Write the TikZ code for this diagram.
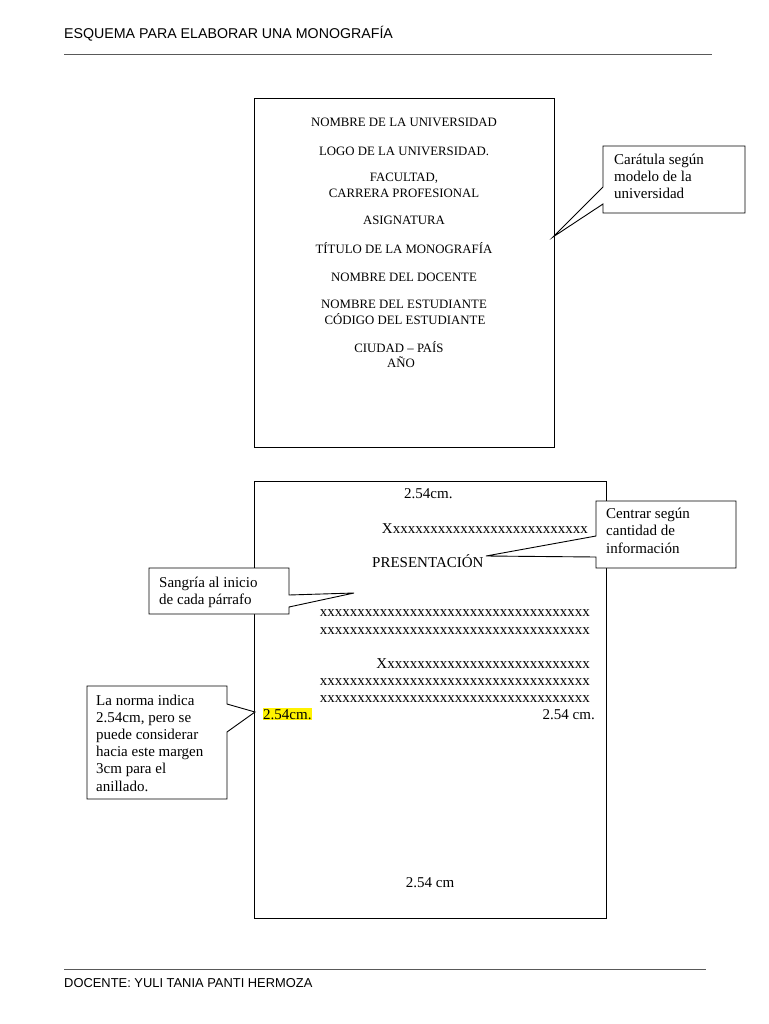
\documentclass[tikz,border=0pt]{standalone}
\usepackage{fontspec}
\setmainfont{Liberation Serif}
\newfontfamily\hdrfont{Liberation Sans}
\begin{document}
\begin{tikzpicture}[x=1pt,y=-1pt,
  pagebox/.style={draw=black,line width=0.9pt},
  callout/.style={draw=black,line width=0.9pt,fill=white,line join=miter},
  cover/.style={inner sep=0pt,anchor=base,font=\fontsize{12.8}{16}\selectfont},
  body/.style={inner sep=0pt,font=\fontsize{15}{17}\selectfont},
  ctext/.style={inner sep=0pt,anchor=base west,font=\fontsize{15}{17}\selectfont},
  rule/.style={draw=black!65,line width=0.8pt}]
\useasboundingbox (0,0) rectangle (768,1024);
% header / footer
\node[inner sep=0pt,anchor=base west,font=\hdrfont\fontsize{14.2}{16}\selectfont] (hdr) at (64,39) {ESQUEMA PARA ELABORAR UNA MONOGRAFÍA};
\coordinate (hr1) at (64,54); \coordinate (hr2) at (712,54);
\draw[rule] (hr1) -- (hr2);
\coordinate (fr1) at (64,969); \coordinate (fr2) at (706,969);
\draw[rule] (fr1) -- (fr2);
\node[inner sep=0pt,anchor=base west,font=\hdrfont\fontsize{12.9}{15}\selectfont] (ftr) at (64,987) {DOCENTE: YULI TANIA PANTI HERMOZA};
% page 1 (cover)
\draw[pagebox] (254,98) rectangle (554,447);
\node[cover] (c1) at (404,127) {NOMBRE DE LA UNIVERSIDAD};
\node[cover] (c2) at (404,156) {LOGO DE LA UNIVERSIDAD.};
\node[cover] (c3) at (404,182) {FACULTAD,};
\node[cover] (c4) at (404,198) {CARRERA PROFESIONAL};
\node[cover] (c5) at (404,225) {ASIGNATURA};
\node[cover] (c6) at (404,253) {TÍTULO DE LA MONOGRAFÍA};
\node[cover] (c7) at (404,281) {NOMBRE DEL DOCENTE};
\node[cover] (c8) at (404,308) {NOMBRE DEL ESTUDIANTE};
\node[cover] (c9) at (405,324) {CÓDIGO DEL ESTUDIANTE};
\node[cover] (c10) at (399,352) {CIUDAD – PAÍS};
\node[cover] (c11) at (401,367) {AÑO};
% callout 1
\coordinate (t1) at (553,237);
\draw[callout] (603,146) -- (745,146) -- (745,213) -- (603,213) -- (603,204) -- (t1) -- (603,187) -- cycle;
\node[ctext] (k1a) at (614,165) {Carátula según};
\node[ctext] (k1b) at (614,182) {modelo de la};
\node[ctext] (k1c) at (614,199) {universidad};
% page 2
\draw[pagebox] (254,481) rectangle (606,918);
\node[body,anchor=base west] (p1) at (404,498) {2.54cm.};
\node[body,anchor=base east] (p2) at (588,533) {Xxxxxxxxxxxxxxxxxxxxxxxxxxx};
\node[body,anchor=base west] (p3) at (372,567) {PRESENTACIÓN};
\node[body,anchor=base east] (p4) at (590,616) {xxxxxxxxxxxxxxxxxxxxxxxxxxxxxxxxxxxx};
\node[body,anchor=base east] (p5) at (590,634) {xxxxxxxxxxxxxxxxxxxxxxxxxxxxxxxxxxxx};
\node[body,anchor=base east] (p6) at (590,668) {Xxxxxxxxxxxxxxxxxxxxxxxxxxxx};
\node[body,anchor=base east] (p7) at (590,685) {xxxxxxxxxxxxxxxxxxxxxxxxxxxxxxxxxxxx};
\node[body,anchor=base east] (p8) at (590,702) {xxxxxxxxxxxxxxxxxxxxxxxxxxxxxxxxxxxx};
\node[body,anchor=base west,fill=yellow,inner ysep=1pt] (p9) at (263,719) {2.54cm.};
\node[body,anchor=base east] (p10) at (595,719) {2.54 cm.};
\node[body,anchor=base] (p11) at (430,887) {2.54 cm};
% callout 2
\coordinate (t2) at (486,556);
\draw[callout] (596,501) -- (736,501) -- (736,568) -- (596,568) -- (596,557) -- (t2) -- (596,536) -- cycle;
\node[ctext] (k2a) at (606,518) {Centrar según};
\node[ctext] (k2b) at (606,535) {cantidad de};
\node[ctext] (k2c) at (606,553) {información};
% callout 3
\coordinate (t3) at (354,593);
\draw[callout] (149,568) -- (289,568) -- (289,595) -- (t3) -- (289,607) -- (289,614) -- (149,614) -- cycle;
\node[ctext] (k3a) at (159,587) {Sangría al inicio};
\node[ctext] (k3b) at (159,604) {de cada párrafo};
% callout 4
\coordinate (t4) at (255,712);
\draw[callout] (87,686) -- (227,686) -- (227,704) -- (t4) -- (227,732) -- (227,799) -- (87,799) -- cycle;
\node[ctext] (k4a) at (96,705) {La norma indica};
\node[ctext] (k4b) at (96,722) {2.54cm, pero se};
\node[ctext] (k4c) at (96,739) {puede considerar};
\node[ctext] (k4d) at (96,756) {hacia este margen};
\node[ctext] (k4e) at (96,773) {3cm para el};
\node[ctext] (k4f) at (96,791) {anillado.};
\end{tikzpicture}
\end{document}
